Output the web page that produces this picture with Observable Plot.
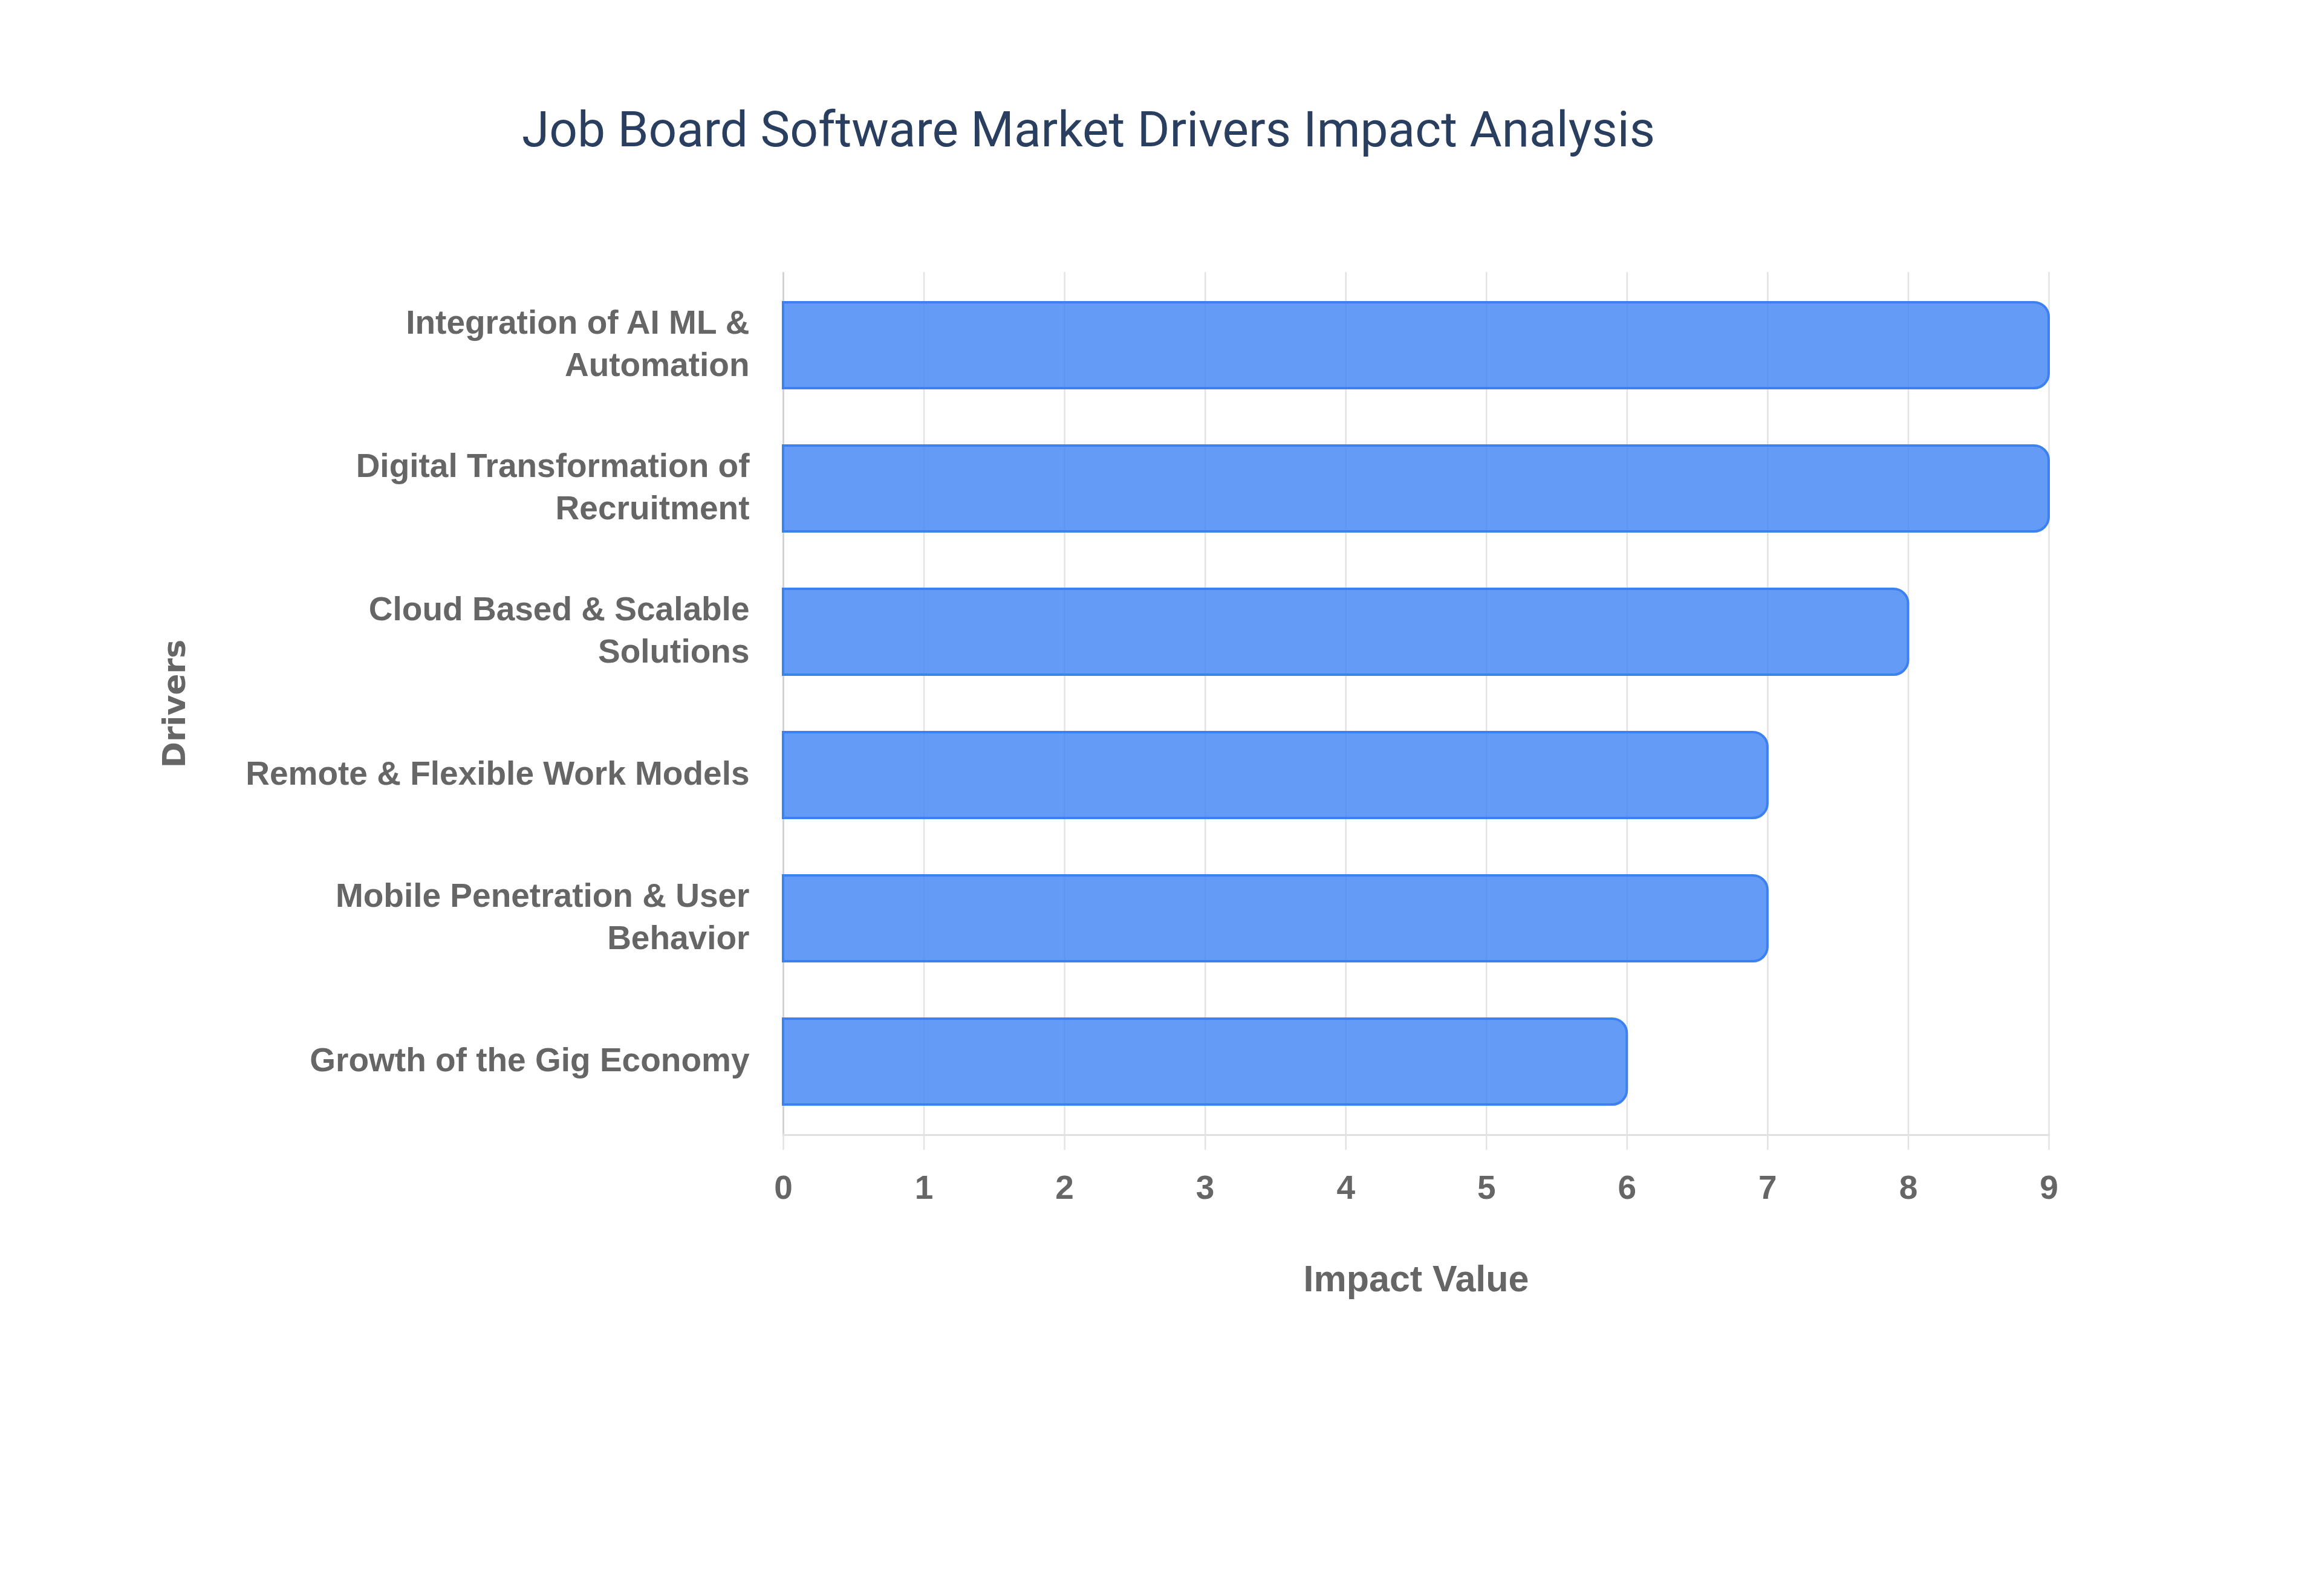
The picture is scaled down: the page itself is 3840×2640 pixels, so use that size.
<!DOCTYPE html>
<html>
<head>
<meta charset="utf-8">
<script src="https://cdn.jsdelivr.net/npm/d3@7"></script>
<script src="https://cdn.jsdelivr.net/npm/@observablehq/plot@0.6"></script>
<style>
  html, body { margin: 0; padding: 0; background: #fff; }
  #wrap { width: 3840px; height: 2640px; position: relative; background: #fff; }
  #title {
    width: 3600px; height: 340px; box-sizing: border-box; padding-top: 173px;
    text-align: center; font-family: Roboto, "Liberation Sans", sans-serif;
    font-size: 82px; line-height: 1; color: #2a3f5f; font-weight: 400;
  }
</style>
</head>
<body>
<div id="wrap">
  <div id="title">Job Board Software Market Drivers Impact Analysis</div>
  <div id="chart"></div>
</div>
<script>
// Categories (top to bottom) and values
const drivers = [
  "Integration of AI ML & Automation",
  "Digital Transformation of Recruitment",
  "Cloud Based & Scalable Solutions",
  "Remote & Flexible Work Models",
  "Mobile Penetration & User Behavior",
  "Growth of the Gig Economy"
];
const impact = [9, 9, 8, 7, 7, 6];
const tickLabels = [
  "Integration of AI ML &\nAutomation",
  "Digital Transformation of\nRecruitment",
  "Cloud Based & Scalable\nSolutions",
  "Remote & Flexible Work Models",
  "Mobile Penetration & User\nBehavior",
  "Growth of the Gig Economy"
];
const xTicks = [0, 1, 2, 3, 4, 5, 6, 7, 8, 9];
const xLabel = "Impact Value";
const yLabel = "Drivers";

const data = drivers.map((d, i) => ({driver: d, impact: impact[i]}));
const labelOf = new Map(drivers.map((d, i) => [d, tickLabels[i]]));

const tickFont = "'Liberation Sans', Arial, sans-serif";

const chart = Plot.plot({
  width: 3840,
  height: 2300,
  marginTop: 110,
  marginBottom: 763,
  marginLeft: 1295,
  marginRight: 452,
  style: {background: "#fff"},
  x: {domain: [0, 9]},
  y: {domain: drivers, paddingInner: 0.4, paddingOuter: 0.2},
  marks: [
    Plot.gridX(xTicks, {stroke: "#e3e3e3", strokeOpacity: 1, strokeWidth: 2.5}),
    Plot.ruleX([0], {stroke: "#d0d0d0", strokeWidth: 2.5}),
    Plot.barX(data, {
      x: "impact", y: "driver",
      fill: "#4285F4", fillOpacity: 0.82,
      stroke: "#3d80f0", strokeWidth: 4,
      rx2: 24
    }),
    Plot.frame({anchor: "bottom", stroke: "#e0e0e0", strokeWidth: 3}),
    Plot.axisX(xTicks, {
      tickSize: 25, stroke: "#e3e3e3", strokeWidth: 2.5,
      tickPadding: 41, fill: "#666", fontSize: 55, fontWeight: "bold",
      fontFamily: tickFont, label: null, tickFormat: d => String(d)
    }),
    Plot.axisY({
      tickSize: 0, tickPadding: 56, fill: "#666", fontSize: 55,
      fontWeight: "bold", fontFamily: tickFont, lineHeight: 1.28, dy: -7,
      tickFormat: d => labelOf.get(d), label: null
    }),
    Plot.text([xLabel], {
      frameAnchor: "bottom", lineAnchor: "middle", dy: 239,
      fill: "#666", fontSize: 61, fontWeight: "bold", fontFamily: tickFont
    }),
    Plot.text([yLabel], {
      frameAnchor: "left", textAnchor: "middle", dx: -1006, rotate: -90,
      fill: "#666", fontSize: 52, fontWeight: "bold",
      fontFamily: "'DejaVu Sans', Verdana, sans-serif"
    })
  ]
});
document.getElementById("chart").appendChild(chart);
</script>
</body>
</html>
